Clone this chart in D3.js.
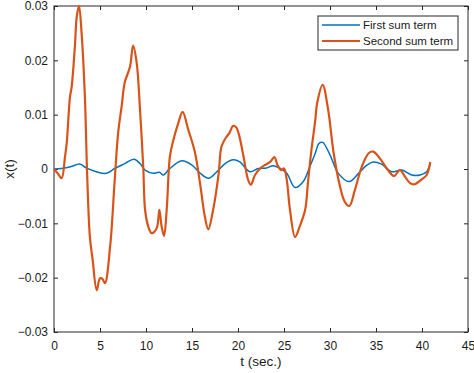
<!DOCTYPE html>
<html>
<head>
<meta charset="utf-8">
<script src="https://cdn.jsdelivr.net/npm/d3@7/dist/d3.min.js"></script>
<style>
  body { margin: 0; background: #fff; }
  svg { display: block; font-family: "Liberation Sans", Arial, sans-serif; }
</style>
</head>
<body>
<svg id="chart" width="474" height="373"></svg>
<script>
// values
var firstT = [0, 0.8, 1.8, 2.8, 3.5, 4.6, 5.7, 6.6, 7.7, 8.7, 9.35, 9.9, 10.8, 11.45, 11.9, 12.6, 13.9, 15.0, 15.9, 16.8, 17.7, 18.6, 19.5, 20.2, 21.3, 22.2, 23.1, 23.8, 24.6, 25.3, 26.2, 27.1, 27.8, 28.4, 28.8, 29.2, 30.0, 30.9, 32.1, 33.1, 34.0, 34.7, 35.6, 36.7, 37.8, 38.9, 39.8, 40.5, 40.9];
var firstX = [0, 0.0001, 0.0004, 0.0009, 0.0002, -0.0005, -0.0008, 0.0001, 0.001, 0.0018, 0.001, -0.0002, -0.0008, -0.0006, -0.0011, 0.0001, 0.0015, 0.0007, -0.0008, -0.0017, -0.0005, 0.001, 0.0017, 0.0013, -0.0005, 0.0001, 0.0002, 0.0006, 0.0001, -0.0008, -0.0034, -0.0023, 0.0004, 0.0029, 0.0047, 0.0049, 0.0026, -0.0008, -0.0023, -0.0008, 0.0007, 0.0013, 0.0009, -0.0005, -0.0002, -0.0011, -0.0011, -0.0005, 0.001];

var secondT = [0, 0.4, 0.83, 1.2, 1.38, 1.74, 1.92, 2.28, 2.47, 2.72, 3.0, 3.37, 3.6, 3.9, 4.2, 4.64, 5.0, 5.25, 5.54, 6.1, 6.6, 6.97, 7.35, 7.7, 8.26, 8.6, 8.99, 9.35, 9.7, 9.9, 10.25, 10.6, 11.16, 11.45, 11.7, 11.96, 12.25, 12.6, 12.97, 13.5, 13.98, 14.6, 15.3, 15.87, 16.4, 16.77, 17.3, 17.9, 18.2, 18.7, 19.06, 19.45, 19.8, 20.15, 20.6, 21.1, 21.4, 21.85, 22.4, 22.9, 23.5, 23.95, 24.3, 24.7, 25.0, 25.3, 25.65, 26.2, 26.7, 27.3, 27.6, 27.98, 28.4, 28.6, 29.2, 29.8, 30.4, 31.1, 31.6, 32.1, 32.7, 33.45, 34.2, 34.7, 35.4, 36.3, 36.96, 37.6, 38.15, 38.7, 39.2, 39.97, 40.5, 40.9];
var secondX = [0, -0.0008, -0.0017, 0.0023, 0.0047, 0.0133, 0.0151, 0.0228, 0.028, 0.030, 0.025, 0.0127, -0.0008, -0.0125, -0.0167, -0.0223, -0.0201, -0.0202, -0.021, -0.0143, -0.002, 0.0066, 0.0115, 0.016, 0.0188, 0.0227, 0.0195, 0.0109, 0.0004, -0.0075, -0.0106, -0.0118, -0.0109, -0.0075, -0.0106, -0.0123, -0.0075, 0.0023, 0.0053, 0.0084, 0.0105, 0.0072, 0.0032, -0.0026, -0.0088, -0.0111, -0.0075, -0.0008, 0.0041, 0.0058, 0.0066, 0.0079, 0.0077, 0.006, 0.0023, -0.002, -0.0029, -0.0011, 0.0001, 0.0007, 0.0013, 0.0022, 0.0007, -0.0002, 0.0001, -0.002, -0.0075, -0.0125, -0.0106, -0.0075, -0.0026, 0.0035, 0.009, 0.0121, 0.0155, 0.0109, 0.0029, -0.0033, -0.006, -0.0068, -0.0039, 0.0004, 0.0029, 0.0032, 0.002, -0.0002, -0.0013, -0.0002, -0.0014, -0.0026, -0.0028, -0.0019, -0.0011, 0.0013];

var xTicks = [0, 5, 10, 15, 20, 25, 30, 35, 40, 45];
var yTicks = [-0.03, -0.02, -0.01, 0, 0.01, 0.02, 0.03];
var seriesNames = ["First sum term", "Second sum term"];
var seriesColors = ["#0072BD", "#D95319"];

// plot box in pixels (note: "top" is a reserved window property, so use other names)
var plotL = 54, plotR = 468, plotT = 6, plotB = 332;
var svg = d3.select("#chart");
var axisColor = "#262626";

var x = d3.scaleLinear().domain([0, 45]).range([plotL, plotR]);
var y = d3.scaleLinear().domain([-0.03, 0.03]).range([plotB, plotT]);

// box
svg.append("rect")
  .attr("x", plotL).attr("y", plotT)
  .attr("width", plotR - plotL).attr("height", plotB - plotT)
  .attr("fill", "none").attr("stroke", axisColor).attr("stroke-width", 1);

// axes on all four sides, ticks pointing inward
var fmtX = function(d) { return d; };
var fmtY = function(d) { return d === 0 ? "0" : d3.format(".2f")(d); };

var gx = svg.append("g").attr("transform", "translate(0," + plotB + ")")
  .call(d3.axisBottom(x).tickValues(xTicks).tickFormat(fmtX).tickSizeInner(-4).tickSizeOuter(0).tickPadding(9));
var gxTop = svg.append("g").attr("transform", "translate(0," + plotT + ")")
  .call(d3.axisTop(x).tickValues(xTicks).tickFormat("").tickSizeInner(-4).tickSizeOuter(0));
var gy = svg.append("g").attr("transform", "translate(" + plotL + ",0)")
  .call(d3.axisLeft(y).tickValues(yTicks).tickFormat(fmtY).tickSizeInner(-4).tickSizeOuter(0).tickPadding(6));
var gyRight = svg.append("g").attr("transform", "translate(" + plotR + ",0)")
  .call(d3.axisRight(y).tickValues(yTicks).tickFormat("").tickSizeInner(-4).tickSizeOuter(0));

[gx, gxTop, gy, gyRight].forEach(function(g) {
  g.select(".domain").remove();
  g.selectAll("line").attr("stroke", axisColor);
  g.selectAll("text").attr("fill", "#1a1a1a").style("font-size", "12px").style("font-family", "Liberation Sans, Arial, sans-serif");
});

// axis labels
svg.append("text")
  .attr("x", (plotL + plotR) / 2).attr("y", 366)
  .attr("text-anchor", "middle")
  .style("font-size", "13.5px").attr("fill", "#1a1a1a")
  .text("t (sec.)");
svg.append("text")
  .attr("transform", "translate(14," + y(0) + ") rotate(-90)")
  .attr("text-anchor", "middle")
  .style("font-size", "13.5px").attr("fill", "#1a1a1a")
  .text("x(t)");

// lines
var line = d3.line()
  .x(function(d) { return x(d[0]); })
  .y(function(d) { return y(d[1]); })
  .curve(d3.curveCatmullRom.alpha(0.5));

var firstData = firstT.map(function(t, i) { return [t, firstX[i]]; });
var secondData = secondT.map(function(t, i) { return [t, secondX[i]]; });

svg.append("path").datum(firstData)
  .attr("d", line).attr("fill", "none")
  .attr("stroke", seriesColors[0]).attr("stroke-width", 1.5);
svg.append("path").datum(secondData)
  .attr("d", line).attr("fill", "none")
  .attr("stroke", seriesColors[1]).attr("stroke-width", 2.2);

// legend
var legend = svg.append("g");
legend.append("rect")
  .attr("x", 318).attr("y", 16).attr("width", 140).attr("height", 34)
  .attr("fill", "#fff").attr("stroke", axisColor).attr("stroke-width", 1);
seriesNames.forEach(function(name, i) {
  var ly = 25 + i * 16;
  legend.append("line")
    .attr("x1", 322).attr("x2", 360).attr("y1", ly).attr("y2", ly)
    .attr("stroke", seriesColors[i]).attr("stroke-width", i === 0 ? 1.5 : 2.2);
  legend.append("text")
    .attr("x", 363).attr("y", ly + 4)
    .style("font-size", "11.5px").attr("fill", "#1a1a1a")
    .text(name);
});
</script>
</body>
</html>
